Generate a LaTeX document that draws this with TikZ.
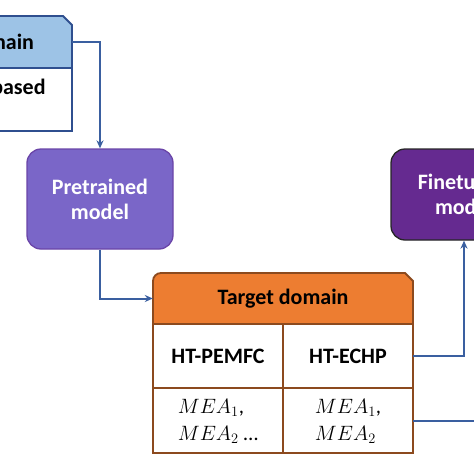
\documentclass[tikz,border=0pt]{standalone}
\usepackage{fontspec}
\setmainfont{Carlito}
\usetikzlibrary{arrows.meta,calc}
\definecolor{srcblue}{HTML}{9DC3E6}
\definecolor{navyline}{HTML}{2F4F8F}
\definecolor{linkblue}{HTML}{3A5FA0}
\definecolor{premauve}{HTML}{7A66C8}
\definecolor{preedge}{HTML}{6A45A8}
\definecolor{finepurple}{HTML}{652A90}
\definecolor{tgtorange}{HTML}{ED7D31}
\definecolor{tgtedge}{HTML}{8C4A1E}

\begin{document}
\begin{tikzpicture}[
  x=1pt,y=-1pt,
  >={Stealth[length=8pt,width=7pt]},
  every node/.style={font=\fontsize{22}{25}\selectfont\bfseries},
  link/.style={->,linkblue,line width=2pt},
  model/.style={rounded corners=14pt,minimum width=146pt,minimum height=100pt,align=center,text=white,line width=1.3pt},
  cell/.style={minimum width=130pt,minimum height=64pt,inner sep=0pt},
  mea/.style={cell,align=left,font=\fontsize{21}{27}\selectfont}
]
  \useasboundingbox (0,0) rectangle (474,474);
  \clip (0,0) rectangle (474,474);

  % source domain
  \fill[srcblue] (-140,16) -- (63,16) -- (72,25) -- (72,68) -- (-140,68) -- cycle;
  \draw[navyline,line width=1.8pt] (-140,16) -- (63,16) -- (72,25) -- (72,131) -- (-140,131) -- cycle
    (-140,68) -- (72,68);
  \node (srchead) [minimum width=212pt,minimum height=52pt,anchor=north east] at (72,16) {Source domain};
  \node (srcbody) at (-34,87) {Simulation-based};

  % models
  \node (pre) [model,fill=premauve,draw=preedge] at (100,199) {Pretrained\\model};
  \node (fine) [model,fill=finepurple,draw=black!85,minimum height=91pt] at (464,194.5) {Finetuned\\model};

  % target domain
  \fill[tgtorange] (153,324) -- (153,281) arc[start angle=180,end angle=270,radius=8]
    -- (405,273) -- (413,281) -- (413,324) -- cycle;
  \draw[tgtedge,line width=1.8pt] (153,453) -- (153,281) arc[start angle=180,end angle=270,radius=8]
    -- (405,273) -- (413,281) -- (413,453) -- cycle
    (153,324) -- (413,324) (153,388) -- (413,388) (283,324) -- (283,453);
  \node (thead) [minimum width=260pt,minimum height=51pt] at (283,298.5) {Target domain};
  \node (pemfc) [cell] at (218,356) {HT-PEMFC};
  \node (echp) [cell] at (348,356) {HT-ECHP};
  \node (meaa) [mea] at (218,421) {$MEA_1$,\\$MEA_2$ \dots};
  \node (meab) [mea] at (348,421) {$MEA_1$,\\$MEA_2$};

  \coordinate (offright) at (480,421);
  \draw[link] (srchead.east) -| (pre.north);
  \draw[link] (pre.south) |- (thead.west);
  \draw[link] (echp.east) -| (fine.south);
  \draw[link,-] (meab.east) -- (offright);
\end{tikzpicture}
\end{document}
